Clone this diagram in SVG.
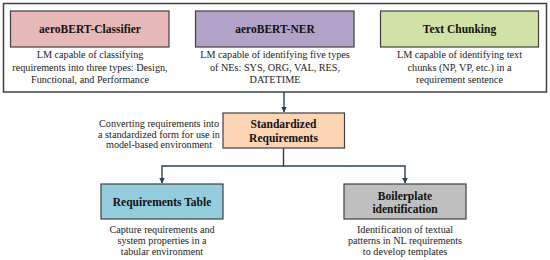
<svg xmlns="http://www.w3.org/2000/svg" width="550" height="260" viewBox="0 0 550 260">
<style>
.box{stroke:#404040;stroke-width:1.2}
.t{font-family:"Liberation Serif","Times New Roman",serif;font-weight:bold;font-size:11.5px;fill:#111;text-anchor:middle}
.d{font-family:"Liberation Serif","Times New Roman",serif;font-size:10.2px;fill:#222;text-anchor:middle}
.c{fill:none;stroke:#2a3f5c;stroke-width:1.4}
</style>
<defs>
<marker id="ah" viewBox="0 0 6 6" refX="5.5" refY="3" markerWidth="4" markerHeight="4" orient="auto">
<path d="M0,0 L6,3 L0,6 z" fill="#2a3f5c"/>
</marker>
</defs>
<rect x="0" y="0" width="550" height="260" fill="#fff"/>
<g id="outer">
<rect x="3.5" y="3.5" width="543" height="88.5" fill="none" stroke="#404040" stroke-width="1.5"/>
</g>
<g id="classifier">
<rect class="box" x="10.5" y="11" width="158.5" height="36" fill="#e6b9b8"/>
<text class="t" x="90" y="33">aeroBERT-Classifier</text>
<text class="d" x="90" y="58">LM capable of classifying</text>
<text class="d" x="90" y="70.5">requirements into three types: Design,</text>
<text class="d" x="90" y="83">Functional, and Performance</text>
</g>
<g id="ner">
<rect class="box" x="195.5" y="11" width="158.5" height="36" fill="#b3a2c7"/>
<text class="t" x="275" y="33">aeroBERT-NER</text>
<text class="d" x="275" y="58">LM capable of identifying five types</text>
<text class="d" x="275" y="70.5">of NEs: SYS, ORG, VAL, RES,</text>
<text class="d" x="275" y="83">DATETIME</text>
</g>
<g id="chunking">
<rect class="box" x="380.5" y="11" width="158" height="36" fill="#d1e2a6"/>
<text class="t" x="459.5" y="33">Text Chunking</text>
<text class="d" x="459.5" y="58">LM capable of identifying text</text>
<text class="d" x="459.5" y="70.5">chunks (NP, VP, etc.) in a</text>
<text class="d" x="459.5" y="83">requirement sentence</text>
</g>
<g id="standardized">
<rect class="box" x="223" y="113" width="121.5" height="35" fill="#fcd5b5"/>
<text class="t" x="283.5" y="127.5">Standardized</text>
<text class="t" x="283.5" y="142">Requirements</text>
</g>
<g id="standardized-note">
<text class="d" x="159" y="127">Converting requirements into</text>
<text class="d" x="159" y="137.8">a standardized form for use in</text>
<text class="d" x="159" y="148.3">model-based environment</text>
</g>
<g id="reqtable">
<rect class="box" x="101" y="184" width="122" height="35" fill="#93cddd"/>
<text class="t" x="162" y="206">Requirements Table</text>
<text class="d" x="162" y="232.5">Capture requirements and</text>
<text class="d" x="162" y="243.5">system properties in a</text>
<text class="d" x="162" y="254.5">tabular environment</text>
</g>
<g id="boilerplate">
<rect class="box" x="344" y="184" width="122" height="35" fill="#bfbfbf"/>
<text class="t" x="405" y="199.5">Boilerplate</text>
<text class="t" x="405" y="212.5">identification</text>
<text class="d" x="405" y="232.5">Identification of textual</text>
<text class="d" x="405" y="243.5">patterns in NL requirements</text>
<text class="d" x="405" y="254.5">to develop templates</text>
</g>
<g id="connectors">
<path class="c" d="M284,92 V112" marker-end="url(#ah)"/>
<path class="c" d="M283.5,148 V166"/>
<path class="c" d="M283.5,166 H162 V183" marker-end="url(#ah)"/>
<path class="c" d="M283.5,166 H405 V183" marker-end="url(#ah)"/>
</g>
</svg>
